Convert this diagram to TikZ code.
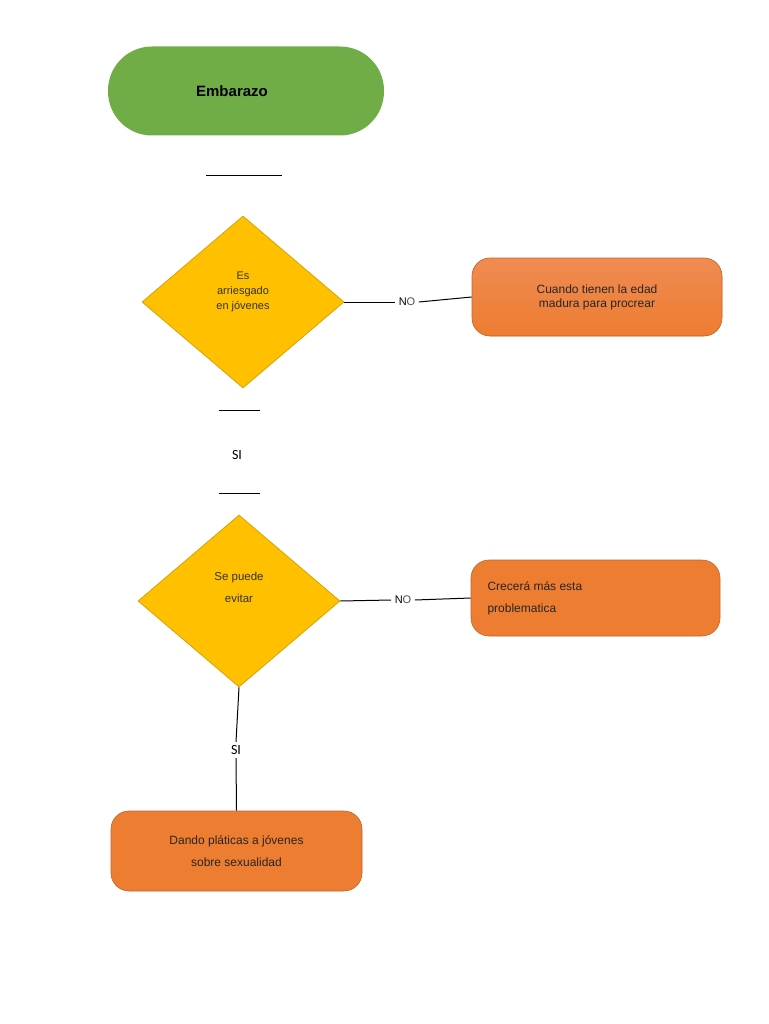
\documentclass[tikz,border=0pt]{standalone}
\usepackage{fontspec}
\setmainfont{Liberation Sans}
\newfontfamily\carlitofont{Carlito}
\usetikzlibrary{shapes.geometric}
\definecolor{gr}{HTML}{70AD47}
\definecolor{ye}{HTML}{FFC000}
\definecolor{yb}{HTML}{D6A300}
\definecolor{orb}{HTML}{ED7D31}
\definecolor{orl}{HTML}{F08B52}
\definecolor{ore}{HTML}{C0652A}
\begin{document}
\begin{tikzpicture}[x=1pt,y=-1pt,
 dia/.style={diamond,fill=ye,draw=yb,line width=0.8pt,inner sep=0pt,font=\fontsize{11}{13}\selectfont,align=center,text=black!80},
 box/.style={rounded corners=18pt,fill=orb,draw=ore,line width=0.6pt,font=\fontsize{12}{14}\selectfont,text=black!85},
 ln/.style={line width=1pt},
 lab/.style={font=\carlitofont\fontsize{13}{15}\selectfont}]
\useasboundingbox (0,0) rectangle (768,1024);
\node[fill=gr,rounded corners=44pt,minimum width=276pt,minimum height=89pt] (start) at (246,91) {};
\node[font=\bfseries\fontsize{15}{17}\selectfont] (st) at (232,91) {Embarazo};
\coordinate (h1a) at (206,176); \coordinate (h1b) at (282,176);
\draw[ln] (h1a) -- (h1b);
\node[dia,minimum width=202pt,minimum height=172pt] (d1) at (243,302) {};
\node[font=\fontsize{11}{15}\selectfont,align=center,text=black!80] (d1t) at (243,292) {Es\\arriesgado\\en jóvenes};
\node[font=\fontsize{11}{13}\selectfont] (no1) at (407,302) {N\textcolor{black!70}{O}};
\draw[ln] (d1.east) -- (no1.west);
\node[box,minimum width=250pt,minimum height=78pt,top color=orl,bottom color=orb,align=center] (b1) at (597,297) {Cuando tienen la edad\\madura para procrear};
\draw[ln] (no1.east) -- (b1.west);
\coordinate (h2a) at (219,410); \coordinate (h2b) at (260,410);
\draw[ln] (h2a) -- (h2b);
\node[lab,font=\carlitofont\fontsize{14}{16}\selectfont] (si1) at (237,455) {SI};
\coordinate (h3a) at (219,493); \coordinate (h3b) at (260,493);
\draw[ln] (h3a) -- (h3b);
\node[dia,minimum width=202pt,minimum height=172pt] (d2) at (239,601) {};
\node[font=\fontsize{11.5}{22}\selectfont,align=center,text=black!80] (d2t) at (239,587) {Se puede\\evitar};
\node[font=\fontsize{11}{13}\selectfont] (no2) at (403,600) {N\textcolor{black!70}{O}};
\draw[ln] (d2.east) -- (no2.west);
\node[box,minimum width=249pt,minimum height=76pt] (b2) at (595.5,598) {};
\node[font=\fontsize{12}{22}\selectfont,align=left,anchor=west,text=black!85] (b2t) at (484,598) {Crecerá más esta\\problematica};
\draw[ln] (no2.east) -- (b2.west);
\node[lab,font=\carlitofont\fontsize{14}{16}\selectfont] (si2) at (236,750) {SI};
\draw[ln] (d2.south) -- (si2.north);
\node[box,minimum width=251pt,minimum height=80pt,align=center,font=\fontsize{12}{22}\selectfont] (b3) at (236.5,851) {Dando pláticas a jóvenes\\sobre sexualidad};
\draw[ln] (si2.south) -- (b3.north);
\end{tikzpicture}
\end{document}
